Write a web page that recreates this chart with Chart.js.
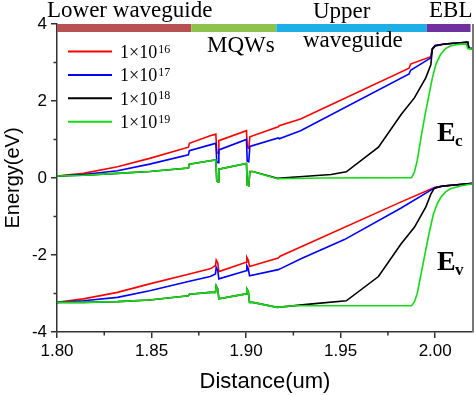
<!DOCTYPE html>
<html>
<head>
<meta charset="utf-8">
<script src="https://cdn.jsdelivr.net/npm/chart.js@4.4.0/dist/chart.umd.min.js"></script>
<style>
    html, body { margin: 0; padding: 0; background: #fff; }
    #wrap { width: 474px; height: 395px; }
</style>
</head>
<body>
<div id="wrap"><canvas id="chart" width="474" height="395"></canvas></div>
<script>
// Band edges: [distance (um), energy (eV)]
const ec16 = [[1.800,0.05],[1.814,0.12],[1.832,0.29],[1.849,0.51],[1.8695,0.80],[1.8700,0.90],[1.881,1.10],[1.8840,1.14],[1.8845,0.68],[1.8852,0.64],[1.8856,0.97],[1.9002,1.23],[1.9006,0.80],[1.9014,0.77],[1.9020,1.07],[1.9170,1.33],[1.9175,1.36],[1.9288,1.53],[1.9862,2.85],[1.9870,2.96],[1.9977,3.15],[1.9985,3.36],[2.000,3.44],[2.005,3.48],[2.015,3.52],[2.0172,3.53],[2.0178,3.37],[2.020,3.36]];
const ec17 = [[1.800,0.05],[1.814,0.09],[1.832,0.19],[1.849,0.36],[1.8695,0.60],[1.8700,0.71],[1.881,0.86],[1.8840,0.90],[1.8845,0.42],[1.8852,0.40],[1.8856,0.73],[1.9002,1.00],[1.9006,0.44],[1.9014,0.42],[1.9020,0.82],[1.9170,1.04],[1.9175,1.02],[1.9288,1.23],[1.9862,2.70],[1.9870,2.80],[1.9977,3.12],[1.9985,3.36],[2.000,3.44],[2.005,3.48],[2.015,3.52],[2.0172,3.53],[2.0178,3.37],[2.020,3.36]];
const ec18 = [[1.800,0.05],[1.814,0.07],[1.832,0.12],[1.849,0.17],[1.8695,0.26],[1.8700,0.36],[1.881,0.45],[1.8840,0.47],[1.8845,-0.08],[1.8852,-0.10],[1.8856,0.23],[1.9002,0.38],[1.9006,-0.18],[1.9014,-0.20],[1.9020,0.17],[1.9035,0.17],[1.9165,-0.01],[1.930,0.04],[1.945,0.09],[1.953,0.16],[1.970,0.80],[1.982,1.65],[1.989,2.08],[1.995,2.60],[1.9977,2.94],[1.9985,3.34],[2.000,3.43],[2.005,3.48],[2.015,3.52],[2.0172,3.53],[2.0178,3.37],[2.020,3.36]];
const ec19 = [[1.800,0.05],[1.814,0.07],[1.832,0.12],[1.849,0.17],[1.8695,0.26],[1.8700,0.36],[1.881,0.45],[1.8840,0.47],[1.8845,-0.08],[1.8852,-0.10],[1.8856,0.23],[1.9002,0.38],[1.9006,-0.18],[1.9014,-0.20],[1.9020,0.17],[1.9035,0.17],[1.9165,-0.02],[1.940,0.00],[1.9875,0.01],[1.9890,0.15],[1.9905,0.45],[1.9925,1.05],[1.9945,1.60],[1.9965,2.10],[1.9985,2.60],[2.0005,2.97],[2.003,3.22],[2.0055,3.36],[2.008,3.43],[2.012,3.47],[2.0165,3.48],[2.0172,3.36],[2.020,3.34]];

const ev16 = [[1.800,-3.23],[1.814,-3.14],[1.832,-2.97],[1.849,-2.75],[1.8695,-2.50],[1.881,-2.36],[1.8838,-2.28],[1.8842,-2.13],[1.8850,-2.20],[1.8856,-2.43],[1.9000,-2.19],[1.9004,-2.06],[1.9012,-2.14],[1.9018,-2.30],[1.9170,-2.08],[1.9180,-2.03],[1.982,-0.62],[1.9975,-0.29],[2.000,-0.24],[2.004,-0.21],[2.010,-0.18],[2.020,-0.14]];
const ev17 = [[1.800,-3.23],[1.814,-3.19],[1.832,-3.10],[1.849,-2.93],[1.8695,-2.69],[1.881,-2.56],[1.8838,-2.49],[1.8842,-2.32],[1.8850,-2.40],[1.8856,-2.62],[1.9000,-2.41],[1.9004,-2.28],[1.9012,-2.36],[1.9018,-2.54],[1.9170,-2.38],[1.9180,-2.36],[1.929,-2.10],[1.952,-1.60],[1.982,-0.78],[1.9975,-0.32],[2.000,-0.25],[2.004,-0.21],[2.010,-0.18],[2.020,-0.14]];
const ev18 = [[1.800,-3.23],[1.814,-3.23],[1.832,-3.21],[1.849,-3.17],[1.8695,-3.06],[1.8700,-3.02],[1.881,-2.97],[1.8838,-2.97],[1.8842,-2.80],[1.8850,-2.88],[1.8856,-3.14],[1.9000,-3.01],[1.9004,-2.88],[1.9012,-2.95],[1.9018,-3.23],[1.9035,-3.23],[1.9165,-3.36],[1.935,-3.27],[1.953,-3.19],[1.970,-2.56],[1.982,-1.71],[1.989,-1.28],[1.995,-0.76],[1.9977,-0.42],[1.9995,-0.27],[2.004,-0.21],[2.010,-0.18],[2.020,-0.14]];
const ev19 = [[1.800,-3.23],[1.814,-3.23],[1.832,-3.21],[1.849,-3.17],[1.8695,-3.06],[1.8700,-3.02],[1.881,-2.97],[1.8838,-2.97],[1.8842,-2.80],[1.8850,-2.88],[1.8856,-3.14],[1.9000,-3.01],[1.9004,-2.88],[1.9012,-2.95],[1.9018,-3.23],[1.9035,-3.23],[1.9165,-3.36],[1.925,-3.32],[1.9875,-3.32],[1.989,-3.22],[1.9905,-3.00],[1.9925,-2.50],[1.9945,-2.00],[1.9965,-1.50],[1.999,-0.95],[2.001,-0.68],[2.003,-0.50],[2.0055,-0.36],[2.008,-0.28],[2.014,-0.20],[2.020,-0.15]];

const dopingExponents = ['16', '17', '18', '19'];
const lineColors = ['#ff0000', '#0000ff', '#000000', '#12dd12'];

// Layer regions along the top of the plot
const regionEdges = [1.800, 1.871, 1.916, 1.9956, 2.0187];
const regionColors = ['#b85252', '#8dc34c', '#1eafe6', '#7030a0'];

const xTicks = [1.80, 2.00, 0.05];
const xMinor = [1.825, 1.875, 1.925, 1.975];
const yTicks = [-4, 4, 2];
const yMinor = [-3, -1, 1, 3];

function toPoints(arr) {
    return arr.map(p => ({ x: p[0], y: p[1] }));
}

const ecSets = [ec16, ec17, ec18, ec19];
const evSets = [ev16, ev17, ev18, ev19];
// green on top, then black, blue, red
const drawOrder = [3, 2, 1, 0];

const datasets = [];
ecSets.forEach((d, i) => {
    datasets.push({ label: '1x10^' + dopingExponents[i] + ' Ec', data: toPoints(d), borderColor: lineColors[i], order: drawOrder[i] });
    datasets.push({ label: '1x10^' + dopingExponents[i] + ' Ev', data: toPoints(evSets[i]), borderColor: lineColors[i], order: drawOrder[i] });
});

const serif = '"Liberation Serif", "Times New Roman", serif';
const sans = '"Liberation Sans", Arial, sans-serif';

// Colored layer bar + region names
const regionPlugin = {
    id: 'regions',
    afterDatasetsDraw(chart) {
        const ctx = chart.ctx;
        const a = chart.chartArea;
        const xs = chart.scales.x;
        ctx.save();
        for (let i = 0; i < regionColors.length; i++) {
            const x0 = xs.getPixelForValue(regionEdges[i]);
            const x1 = xs.getPixelForValue(regionEdges[i + 1]);
            ctx.fillStyle = regionColors[i];
            ctx.fillRect(x0, a.top, x1 - x0, 8);
        }
        ctx.fillStyle = '#000';
        ctx.font = '23px ' + serif;
        ctx.textBaseline = 'alphabetic';
        ctx.fillText('Lower waveguide', 47, 17);
        ctx.fillText('MQWs', 207, 52);
        ctx.fillText('Upper', 313, 18);
        ctx.fillText('waveguide', 303, 47);
        ctx.fillText('EBL', 429, 17);

        // band labels
        ctx.font = 'bold 28px ' + serif;
        ctx.fillText('E', 437, 141);
        ctx.fillText('E', 437, 270);
        ctx.font = 'bold 17px ' + serif;
        ctx.fillText('c', 455, 146);
        ctx.fillText('v', 455, 275);
        ctx.restore();
    }
};

// Legend drawn inside the plot with superscript exponents
const legendPlugin = {
    id: 'dopingLegend',
    afterDraw(chart) {
        const ctx = chart.ctx;
        const a = chart.chartArea;
        ctx.save();
        dopingExponents.forEach((exp, i) => {
            const y = a.top + 27.5 + i * 23.4;
            const x0 = a.left + 11;
            ctx.strokeStyle = lineColors[i];
            ctx.lineWidth = 2;
            ctx.beginPath();
            ctx.moveTo(x0, y);
            ctx.lineTo(x0 + 44, y);
            ctx.stroke();
            ctx.fillStyle = '#000';
            ctx.font = '18px ' + serif;
            ctx.fillText('1\u00d710', x0 + 52, y + 6.5);
            const w = ctx.measureText('1\u00d710').width;
            ctx.font = '12px ' + serif;
            ctx.fillText(exp, x0 + 52 + w + 1, y + 1);
        });
        ctx.restore();
    }
};

// Minor ticks and right border
const framePlugin = {
    id: 'frame',
    afterDraw(chart) {
        const ctx = chart.ctx;
        const a = chart.chartArea;
        const xs = chart.scales.x;
        const ys = chart.scales.y;
        ctx.save();
        ctx.strokeStyle = '#333';
        ctx.lineWidth = 1.5;
        ctx.beginPath();
        xMinor.forEach(v => {
            const px = xs.getPixelForValue(v);
            ctx.moveTo(px, a.bottom);
            ctx.lineTo(px, a.bottom + 3.5);
        });
        yMinor.forEach(v => {
            const py = ys.getPixelForValue(v);
            ctx.moveTo(a.left, py);
            ctx.lineTo(a.left - 3.5, py);
        });
        ctx.stroke();
        ctx.strokeStyle = '#777';
        ctx.lineWidth = 2;
        ctx.beginPath();
        ctx.moveTo(a.right, a.top);
        ctx.lineTo(a.right, a.bottom);
        ctx.stroke();
        ctx.restore();
    }
};

const ctx = document.getElementById('chart');
new Chart(ctx, {
    type: 'line',
    data: { datasets: datasets },
    options: {
        responsive: false,
        animation: false,
        devicePixelRatio: 1,
        layout: { padding: { top: 24, right: 1, left: 0, bottom: 0 } },
        elements: {
            line: { borderWidth: 1.6, tension: 0 },
            point: { radius: 0, hoverRadius: 0 }
        },
        plugins: {
            legend: { display: false },
            tooltip: { enabled: false }
        },
        scales: {
            x: {
                type: 'linear',
                min: xTicks[0],
                max: 2.02,
                afterFit: s => { s.height = 63; },
                ticks: {
                    stepSize: xTicks[2],
                    includeBounds: false,
                    padding: 3,
                    color: '#000',
                    font: { family: sans, size: 17 },
                    maxRotation: 0,
                    callback: v => v.toFixed(2)
                },
                grid: { drawOnChartArea: false, drawTicks: true, tickLength: 6, color: '#333', lineWidth: 1.5 },
                border: { display: true, color: '#333', width: 1.5 },
                title: { display: true, text: 'Distance(um)', color: '#000', font: { family: sans, size: 22 }, padding: 0 }
            },
            y: {
                min: yTicks[0],
                max: yTicks[1],
                afterFit: s => { s.width = 57; },
                ticks: {
                    stepSize: yTicks[2],
                    padding: 4,
                    color: '#000',
                    font: { family: sans, size: 17 }
                },
                grid: { drawOnChartArea: false, drawTicks: true, tickLength: 6, color: '#333', lineWidth: 1.5 },
                border: { display: true, color: '#333', width: 1.5 },
                title: { display: true, text: 'Energy(eV)', color: '#000', font: { family: sans, size: 20 }, padding: 1 }
            }
        }
    },
    plugins: [regionPlugin, legendPlugin, framePlugin]
});
</script>
</body>
</html>
